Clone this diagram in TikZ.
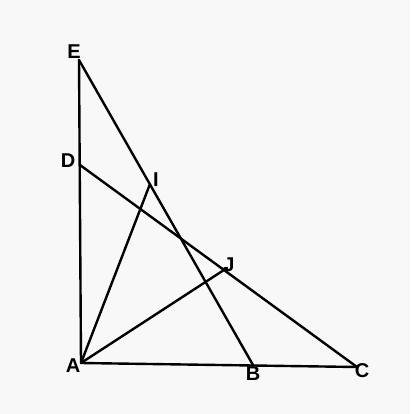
\documentclass[tikz,border=0pt]{standalone}
\usepackage{fontspec}
\setmainfont{Liberation Sans}
\usepackage{tikz}
\usetikzlibrary{calc,positioning}
\definecolor{bgcol}{RGB}{248,248,248}
\tikzset{
  seg/.style={line width=2.4pt, line cap=round, line join=round},
  lbl/.style={font=\bfseries\fontsize{20}{20}\selectfont, inner sep=0pt}
}

\begin{document}
\begin{tikzpicture}[x=1pt, y=-1pt]
  \fill[bgcol] (0,0) rectangle (410,414);
  \useasboundingbox (0,0) rectangle (410,414);

  \coordinate (E) at (79,60);
  \coordinate (D) at (80,165);
  \coordinate (A) at (81,363);
  \coordinate (B) at (253,365);
  \coordinate (C) at (357,367);
  \coordinate (I) at (150,184);
  \coordinate (J) at (227,268);

  \draw[seg] (E) -- (A) -- (C);
  \draw[seg] (E) -- (B);
  \draw[seg] (D) -- (C);
  \draw[seg] (A) -- (I);
  \draw[seg] (A) -- (J);

  \node[lbl] (lE) at (74,52) {E};
  \node[lbl] (lD) at (68,161) {D};
  \node[lbl] (lI) at (156,180) {I};
  \node[lbl] (lJ) at (229,265) {J};
  \node[lbl] (lA) at (73,366) {A};
  \node[lbl] (lB) at (253,374) {B};
  \node[lbl] (lC) at (362,371) {C};
\end{tikzpicture}
\end{document}
